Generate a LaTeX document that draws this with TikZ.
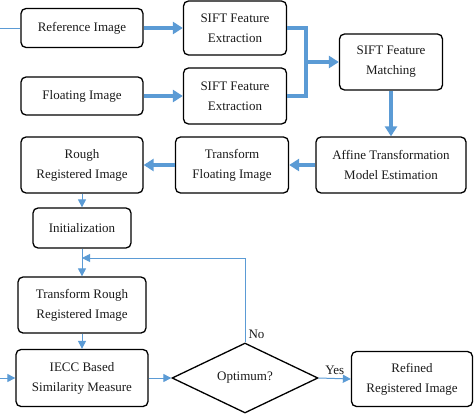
\documentclass[tikz,border=0pt]{standalone}
\usepackage{fontspec}
\setmainfont{Liberation Serif}
\usetikzlibrary{arrows.meta,shapes.geometric}
\definecolor{textcolor}{HTML}{1A1A1A}
\definecolor{flowblue}{HTML}{5B9BD5}
\tikzset{
  box/.style={
    rounded corners=5pt,
    align=center,
    draw=black,
    line width=1.3pt,
    inner sep=2pt,
    font=\fontsize{13}{20}\selectfont,
    text=textcolor
  },
  smallbox/.style={box, minimum width=122pt, minimum height=39pt},
  tallbox/.style={box, minimum height=56pt},
  decision/.style={box, diamond, rounded corners=0pt, minimum width=146pt, minimum height=70pt, inner sep=0pt},
  thick flow/.style={-{Triangle[length=10pt,width=12pt]}, draw=flowblue, line width=3.5pt},
  thin flow/.style={-{Triangle[length=8pt,width=8pt]}, draw=flowblue, line width=1pt},
  plainline/.style={draw=flowblue, line width=1pt},
  thickline/.style={draw=flowblue, line width=3.5pt},
  label text/.style={font=\fontsize{13}{16}\selectfont, text=textcolor}
}
\begin{document}
\begin{tikzpicture}[x=1pt,y=-1pt]
  \useasboundingbox (0,0) rectangle (474,415);

  % Feature extraction stage.
  \node[smallbox] (ref) at (82,28) {Reference Image};
  \node[smallbox, minimum height=38pt] (flo) at (82,96) {Floating Image};
  \node[box, minimum width=103pt, minimum height=54pt] (sift1) at (235,28) {SIFT Feature\\ Extraction};
  \node[box, minimum width=103pt, minimum height=56pt] (sift2) at (235,96) {SIFT Feature\\ Extraction};
  \node[box, minimum width=103pt, minimum height=56pt] (match) at (391,62) {SIFT Feature\\ Matching};

  % Rough registration.
  \node[tallbox, minimum width=150pt] (affine) at (391,165) {Affine Transformation\\ Model Estimation};
  \node[tallbox, minimum width=113pt] (transf) at (232,165) {Transform\\ Floating Image};
  \node[tallbox, minimum width=122pt] (rough) at (82,165) {Rough\\ Registered Image};

  % Fine registration loop.
  \node[box, minimum width=98pt, minimum height=40pt] (init) at (82,228) {Initialization};
  \node[tallbox, minimum width=128pt] (trough) at (82,305) {Transform Rough\\ Registered Image};
  \node[tallbox, minimum width=132pt, minimum height=57pt] (iecc) at (82,378) {IECC Based\\ Similarity Measure};
  \node[decision] (opt) at (245,378) {Optimum?};
  \node[tallbox, minimum width=121pt, minimum height=55pt] (refined) at (412,379) {Refined\\ Registered Image};

  \coordinate (inref) at (0,28);
  \coordinate (iniecc) at (0,378);
  \coordinate (brk) at (306,62);
  \coordinate (loop) at (82,258);

  % Thick arrows.
  \draw[plainline] (inref) -- (ref.west);
  \draw[thick flow] (ref.east) -- (sift1.west);
  \draw[thick flow] (flo.east) -- (sift2.west);
  \draw[thickline] (sift1.east) -| (brk) |- (sift2.east);
  \draw[thick flow] (brk) -- (match.west);
  \draw[thick flow] (match.south) -- (affine.north);
  \draw[thick flow] (affine.west) -- (transf.east);
  \draw[thick flow] (transf.west) -- (rough.east);

  % Thin arrows.
  \draw[thin flow] (rough.south) -- (init.north);
  \draw[thin flow] (init.south) -- (trough.north);
  \draw[thin flow] (trough.south) -- (iecc.north);
  \draw[thin flow] (iniecc) -- (iecc.west);
  \draw[thin flow] (iecc.east) -- (opt.west);
  \draw[thin flow] (opt.east) -- node[label text, above] {Yes} (refined.west);
  \draw[thin flow] (opt.north) |- (loop);
  \node[label text, anchor=south west] (no) at (opt.north) {No};

\end{tikzpicture}
\end{document}
